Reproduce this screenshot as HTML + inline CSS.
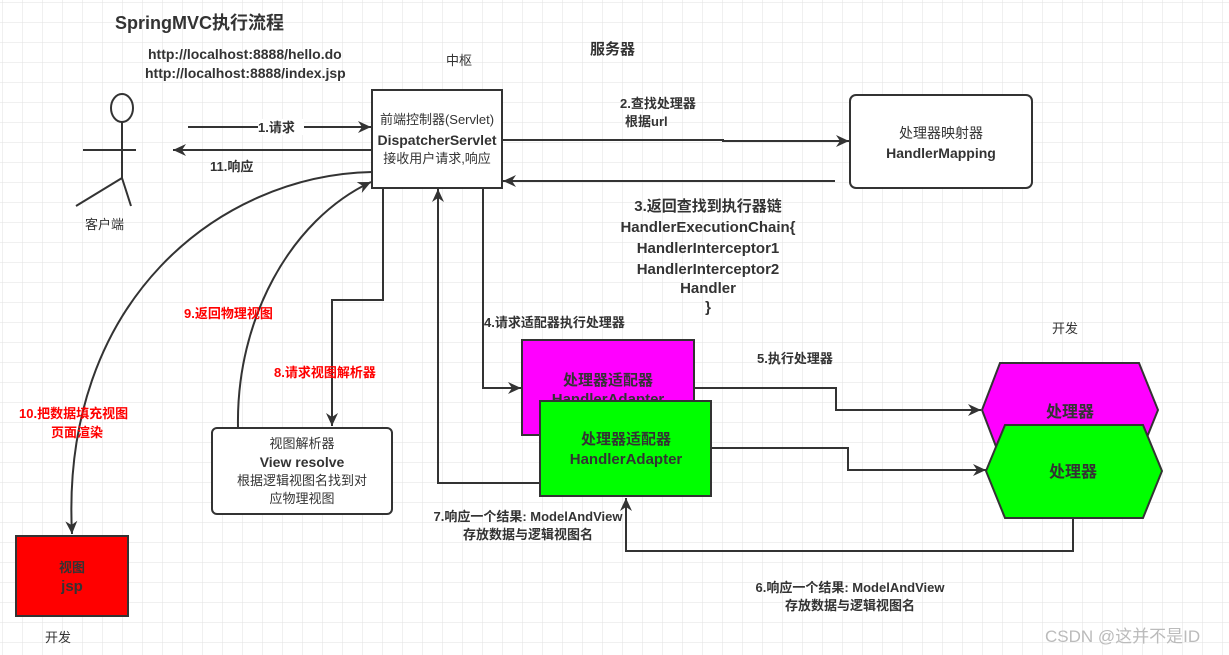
<!DOCTYPE html>
<html><head><meta charset="utf-8"><style>
body{margin:0;background:#fff}
svg{display:block;font-family:"Liberation Sans","Noto Sans CJK SC",sans-serif}
</style></head><body>
<svg width="1229" height="655" viewBox="0 0 1229 655" xmlns="http://www.w3.org/2000/svg">
<defs>
<pattern id="g" width="20" height="20" patternUnits="userSpaceOnUse" x="2" y="2">
<path d="M20 0H0V20" fill="none" stroke="#e2e2e2" stroke-width="1"/>
</pattern>
<marker id="a" markerWidth="14" markerHeight="14" refX="13" refY="7" orient="auto" markerUnits="userSpaceOnUse">
<path d="M0,1 L13,7 L0,13 L4,7z" fill="#333"/>
</marker>
</defs>
<rect width="1229" height="655" fill="url(#g)"/>
<g fill="#333" font-weight="bold">
<text x="115" y="29" font-size="18">SpringMVC执行流程</text>
<text x="148" y="59" font-size="14">http://localhost:8888/hello.do</text>
<text x="145" y="78" font-size="14">http://localhost:8888/index.jsp</text>
<text x="590" y="54" font-size="15">服务器</text>
</g>
<g fill="#333" font-size="13">
<text x="446" y="65">中枢</text>
<text x="85" y="229">客户端</text>
<text x="1052" y="333">开发</text>
<text x="45" y="642">开发</text>
</g>
<!-- actor -->
<g stroke="#333" stroke-width="2" fill="none">
<ellipse cx="122" cy="108" rx="11" ry="14"/>
<path d="M122 122V178M83 150H136M122 178L76 206M122 178L131 206"/>
</g>
<!-- dispatcher -->
<rect x="372" y="90" width="130" height="98" fill="#fff" stroke="#333" stroke-width="2"/>
<g font-size="13" fill="#333" text-anchor="middle">
<text x="437" y="124">前端控制器(Servlet)</text>
<text x="437" y="145" font-weight="bold" font-size="14">DispatcherServlet</text>
<text x="437" y="163">接收用户请求,响应</text>
</g>
<!-- handler mapping -->
<rect x="850" y="95" width="182" height="93" rx="6" fill="#fff" stroke="#333" stroke-width="2"/>
<g font-size="14" fill="#333" text-anchor="middle">
<text x="941" y="138">处理器映射器</text>
<text x="941" y="158" font-weight="bold">HandlerMapping</text>
</g>
<!-- connectors -->
<g stroke="#333" stroke-width="2" fill="none" marker-end="url(#a)">
<path d="M188 127H371"/>
<path d="M372 150H173"/>
<path d="M502 140H723V141H849"/>
<path d="M835 181H503"/>
<path d="M483 188V388H521"/>
<path d="M694 388H836V410H981"/>
<path d="M711 448H848V470H986"/>
<path d="M1073 518V551H626V498"/>
<path d="M540 483H438V189"/>
<path d="M383 188V300H332V426"/>
<path d="M238 427C236 320 290 220 371 182"/>
<path d="M372 172C220 175 60 300 72 534"/>
</g>
<rect x="258" y="119" width="46" height="16" fill="#fff"/>
<g font-size="13" fill="#333" font-weight="bold">
<text x="258" y="132">1.请求</text>
<text x="210" y="171">11.响应</text>
<text x="620" y="108">2.查找处理器</text>
<text x="625" y="126">根据url</text>
<text x="484" y="327">4.请求适配器执行处理器</text>
<text x="757" y="363">5.执行处理器</text>
</g>
<g font-size="15" fill="#333" font-weight="bold" text-anchor="middle">
<text x="708" y="211">3.返回查找到执行器链</text>
<text x="708" y="232">HandlerExecutionChain{</text>
<text x="708" y="253">HandlerInterceptor1</text>
<text x="708" y="274">HandlerInterceptor2</text>
<text x="708" y="293">Handler</text>
<text x="708" y="312">}</text>
</g>
<g font-size="13" fill="#333" font-weight="bold" text-anchor="middle">
<text x="528" y="521">7.响应一个结果: ModelAndView</text>
<text x="528" y="539">存放数据与逻辑视图名</text>
<text x="850" y="592">6.响应一个结果: ModelAndView</text>
<text x="850" y="610">存放数据与逻辑视图名</text>
</g>
<g font-size="13" fill="#f00" font-weight="bold">
<text x="184" y="318">9.返回物理视图</text>
<text x="274" y="377">8.请求视图解析器</text>
<text x="19" y="418">10.把数据填充视图</text>
<text x="51" y="437">页面渲染</text>
</g>
<!-- adapters -->
<rect x="522" y="340" width="172" height="95" fill="#f0f" stroke="#333" stroke-width="2"/>
<g font-size="15" fill="#333" font-weight="bold" text-anchor="middle">
<text x="608" y="385">处理器适配器</text>
<text x="608" y="404">HandlerAdapter</text>
</g>
<rect x="540" y="401" width="171" height="95" fill="#0f0" stroke="#333" stroke-width="2"/>
<g font-size="15" fill="#333" font-weight="bold" text-anchor="middle">
<text x="626" y="444">处理器适配器</text>
<text x="626" y="464">HandlerAdapter</text>
</g>
<!-- handlers -->
<polygon points="982,410 1000,363 1139,363 1158,410 1139,457 1000,457" fill="#f0f" stroke="#333" stroke-width="2"/>
<text x="1070" y="417" font-size="16" font-weight="bold" fill="#333" text-anchor="middle">处理器</text>
<polygon points="986,471 1005,425 1143,425 1162,471 1143,518 1005,518" fill="#0f0" stroke="#333" stroke-width="2"/>
<text x="1073" y="477" font-size="16" font-weight="bold" fill="#333" text-anchor="middle">处理器</text>
<!-- view resolver -->
<rect x="212" y="428" width="180" height="86" rx="5" fill="#fff" stroke="#333" stroke-width="2"/>
<g font-size="13" fill="#333" text-anchor="middle">
<text x="302" y="448">视图解析器</text>
<text x="302" y="467" font-weight="bold" font-size="14">View resolve</text>
<text x="302" y="485">根据逻辑视图名找到对</text>
<text x="302" y="503">应物理视图</text>
</g>
<!-- jsp -->
<rect x="16" y="536" width="112" height="80" fill="#f00" stroke="#333" stroke-width="2"/>
<g font-size="13" fill="#333" font-weight="bold" text-anchor="middle">
<text x="72" y="572">视图</text>
<text x="72" y="591" font-size="15">jsp</text>
</g>
<text x="1045" y="642" font-size="17" fill="#bbb">CSDN @这并不是ID</text>
</svg>
</body></html>
